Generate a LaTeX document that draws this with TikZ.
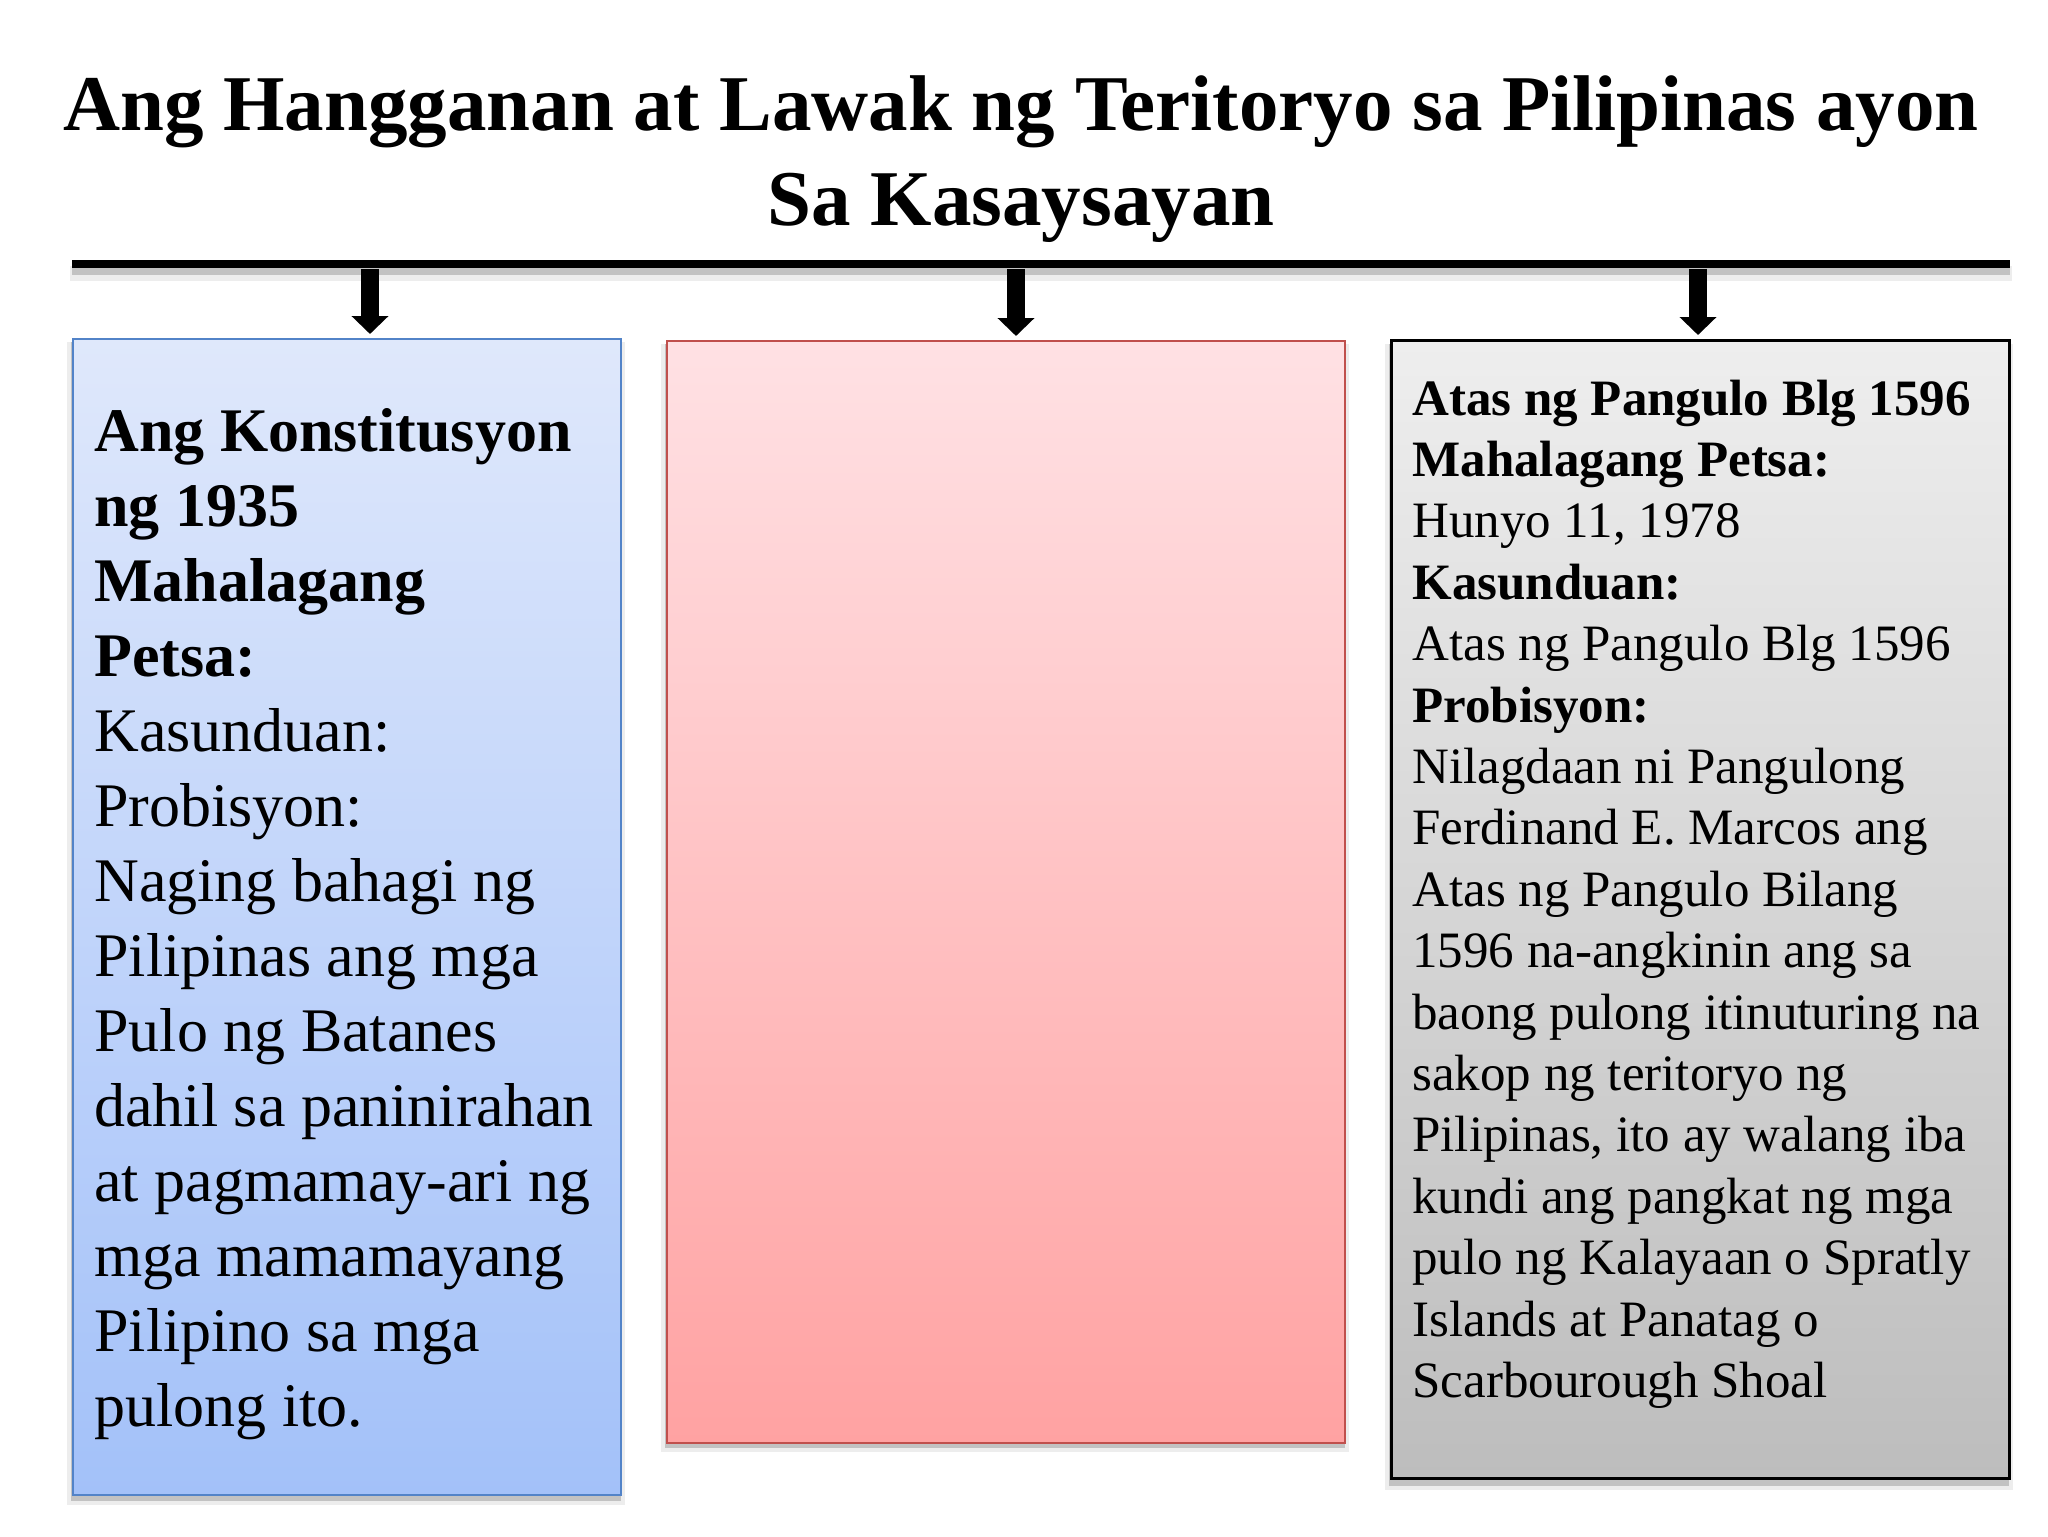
\documentclass[tikz,border=0pt]{standalone}
\usepackage{fontspec}
\setmainfont{Liberation Serif}
\usetikzlibrary{arrows.meta}
\definecolor{b1top}{HTML}{DFE8FB}
\definecolor{b1bot}{HTML}{A3C1F9}
\definecolor{b1edge}{HTML}{5283C8}
\definecolor{b2top}{HTML}{FFE1E4}
\definecolor{b2bot}{HTML}{FFA2A2}
\definecolor{b2edge}{HTML}{C0504D}
\definecolor{b3top}{HTML}{EEEEEE}
\definecolor{b3bot}{HTML}{BDBDBD}
\begin{document}
\begin{tikzpicture}[x=0.5pt,y=-0.5pt,
  titletext/.style={inner sep=0, anchor=base, font=\fontsize{39.5}{47}\selectfont\bfseries},
  lefttext/.style={inner sep=0, anchor=base west, font=\fontsize{31}{37.5}\selectfont},
  righttext/.style={inner sep=0, anchor=base west, font=\fontsize{25.5}{30.7}\selectfont},
  panel/.style={anchor=north west, inner sep=0, line width=1pt},
  darkshade/.style={fill=black!24},
  lightshade/.style={fill=black!7},
  downarrow/.style={line width=9pt, -{Triangle[width=18pt,length=9pt]}, shorten >=2pt}
]
\useasboundingbox[fill=white] (0,0) rectangle (2048,1536);

% title
\node[titletext] (t1) at (1021,131) {Ang Hangganan at Lawak ng Teritoryo sa Pilipinas ayon};
\node[titletext] (t2) at (1021,225) {Sa Kasaysayan};

% bar with shadow
\fill[lightshade] (70,266) rectangle (2012,281);
\fill[darkshade] (72,266) rectangle (2010,275);
\node[fill=black, inner sep=0, minimum width=969pt, minimum height=4pt, anchor=north west] (bar) at (72,260) {};

% shadows of panels
\fill[lightshade] (67,342) rectangle (625,1505);
\fill[darkshade] (71,342) rectangle (621,1501);
\fill[lightshade] (661,344) rectangle (1349,1452);
\fill[darkshade] (665,344) rectangle (1345,1448);
\fill[lightshade] (1385,344) rectangle (2013,1490);
\fill[darkshade] (1389,344) rectangle (2009,1486);

% panels
\node[panel, draw=b1edge, top color=b1top, bottom color=b1bot,
      minimum width=274pt, minimum height=578pt] (b1) at (72,338) {};
\node[panel, draw=b2edge, top color=b2top, bottom color=b2bot,
      minimum width=339pt, minimum height=551pt] (b2) at (666,340) {};
\node[panel, draw=black, line width=1.5pt, top color=b3top, bottom color=b3bot,
      minimum width=309pt, minimum height=569pt] (b3) at (1390,339) {};

% arrows
\coordinate (a1) at (370,338);
\coordinate (a2) at (1016,340);
\coordinate (a3) at (1698,339);
\draw[downarrow] (bar.south -| a1) -- (a1);
\draw[downarrow] (bar.south -| a2) -- (a2);
\draw[downarrow] (bar.south -| a3) -- (a3);

% left panel text
\foreach \ln [count=\i from 0] in {
  {\bfseries Ang Konstitusyon},
  {\bfseries ng 1935},
  {\bfseries Mahalagang},
  {\bfseries Petsa:},
  {Kasunduan:},
  {Probisyon:},
  {Naging bahagi ng},
  {Pilipinas ang mga},
  {Pulo ng Batanes},
  {dahil sa paninirahan},
  {at pagmamay-ari ng},
  {mga mamamayang},
  {Pilipino sa mga},
  {pulong ito.}}
  \node[lefttext] (l\i) at (94,{451+75*\i}) {\ln};

% right panel text
\foreach \ln [count=\i from 0] in {
  {\bfseries Atas ng Pangulo Blg 1596},
  {\bfseries Mahalagang Petsa:},
  {Hunyo 11, 1978},
  {\bfseries Kasunduan:},
  {Atas ng Pangulo Blg 1596},
  {\bfseries Probisyon:},
  {Nilagdaan ni Pangulong},
  {Ferdinand E. Marcos ang},
  {Atas ng Pangulo Bilang},
  {1596 na-angkinin ang sa},
  {baong pulong itinuturing na},
  {sakop ng teritoryo ng},
  {Pilipinas, ito ay walang iba},
  {kundi ang pangkat ng mga},
  {pulo ng Kalayaan o Spratly},
  {Islands at Panatag o},
  {Scarbourough Shoal}}
  \node[righttext] (r\i) at (1412,{415+61.4*\i}) {\ln};
\end{tikzpicture}
\end{document}
